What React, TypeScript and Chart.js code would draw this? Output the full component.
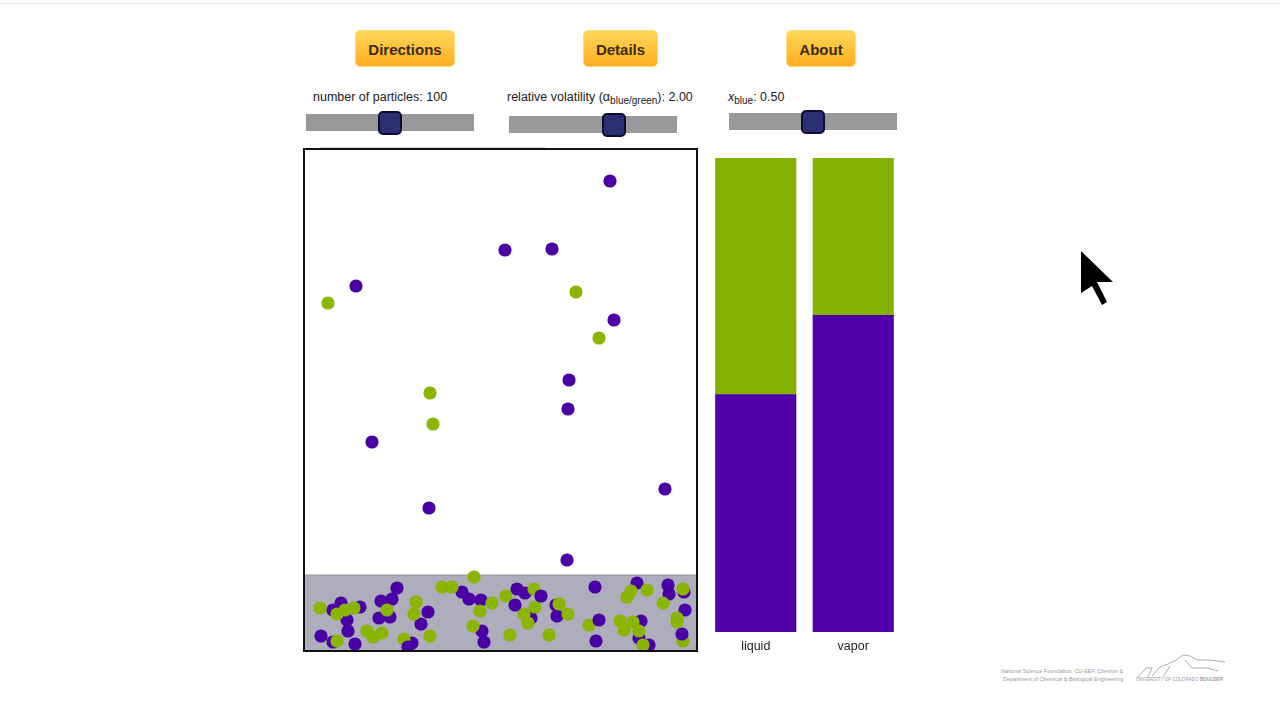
import React, { useEffect, useRef } from "react";
import { Chart, registerables } from "chart.js";

Chart.register(...registerables);

// Simulation box: x = distance from left wall, y = height above the floor
const blueParticles: [number, number][] = [
  [305, 469], [200, 400], [247, 401], [51, 364], [309, 330], [264, 270], [263, 241], [67, 208], [360, 161], [124, 142], [262, 90],
  [36, 47], [28, 40], [55, 43], [42, 30], [43, 19], [16, 14], [28, 8], [50, 6], [92, 62], [76, 49], [87, 51], [74, 32], [85, 33],
  [123, 38], [116, 26], [107, 7], [157, 58], [164, 51], [176, 50], [177, 19], [179, 8],
  [212, 61], [220, 57], [251, 45], [252, 34], [226, 32], [290, 63], [291, 9], [332, 67], [363, 65], [364, 56], [379, 58], [380, 40],
  [336, 29], [334, 12], [344, 5],
];
const blueParticlesFront: [number, number][] = [
  [236, 54], [210, 45], [294, 30], [377, 16], [103, 3],
];
const greenParticles: [number, number][] = [
  [23, 347], [271, 358], [294, 312], [125, 257], [128, 226],
  [15, 42], [32, 36], [40, 40], [49, 42], [82, 40], [111, 48], [109, 36], [62, 19], [68, 13], [77, 17], [32, 9], [99, 11], [125, 14],
  [137, 63], [147, 63], [169, 73], [187, 47], [175, 39], [168, 24], [201, 54],
  [229, 61], [230, 43], [219, 36], [223, 27], [254, 46], [263, 36], [205, 15], [244, 15], [284, 25], [326, 59], [322, 53], [342, 60],
  [358, 47], [378, 61], [372, 32], [372, 28], [315, 29], [328, 28], [319, 20], [334, 19], [338, 5], [378, 9],
];
const boxWidth = 391;
const boxHeight = 500;
const liquidLevel = 75;

// Composition bars
const phases = ["liquid", "vapor"];
const blueFraction = [0.501, 0.668];
const greenFraction = [0.499, 0.332];

const PURPLE = "#4b00a6";
const GREEN = "#8ab500";
const SANS = "'Liberation Sans', Arial, sans-serif";

const liquidPlugin = {
  id: "liquidLayer",
  beforeDatasetsDraw(chart: any) {
    const { ctx, chartArea, scales } = chart;
    const top = scales.y.getPixelForValue(liquidLevel);
    ctx.save();
    ctx.fillStyle = "#adadbb";
    ctx.fillRect(chartArea.left, top, chartArea.right - chartArea.left, chartArea.bottom - top);
    ctx.fillStyle = "#8f8f99";
    ctx.fillRect(chartArea.left, top - 0.5, chartArea.right - chartArea.left, 1);
    ctx.restore();
  },
};

function Particles() {
  const ref = useRef<HTMLCanvasElement>(null);
  useEffect(() => {
    const point = (data: [number, number][], color: string, order: number) => ({
      data: data.map(([x, y]) => ({ x, y })),
      backgroundColor: color,
      borderWidth: 0,
      pointRadius: 6.6,
      order,
    });
    const chart = new Chart(ref.current!, {
      type: "scatter",
      data: {
        datasets: [
          point(blueParticlesFront, PURPLE, 1),
          point(greenParticles, GREEN, 2),
          point(blueParticles, PURPLE, 3),
        ],
      },
      options: {
        animation: false,
        responsive: false,
        devicePixelRatio: 1,
        layout: { padding: 0, autoPadding: false },
        plugins: { legend: { display: false }, tooltip: { enabled: false } },
        scales: {
          x: { min: 0, max: boxWidth, display: false },
          y: { min: 0, max: boxHeight, display: false },
        },
      },
      plugins: [liquidPlugin],
    } as any);
    return () => chart.destroy();
  }, []);
  return (
    <div
      style={{
        position: "absolute",
        left: 303,
        top: 148,
        width: boxWidth,
        height: boxHeight,
        border: "2px solid #111",
      }}
    >
      <canvas ref={ref} width={boxWidth} height={boxHeight} style={{ display: "block" }} />
    </div>
  );
}

function Bars() {
  const ref = useRef<HTMLCanvasElement>(null);
  useEffect(() => {
    const chart = new Chart(ref.current!, {
      type: "bar",
      data: {
        labels: phases,
        datasets: [
          { label: "blue", data: blueFraction, backgroundColor: "#4f00a8", barThickness: 80.5, borderWidth: 0 },
          { label: "green", data: greenFraction, backgroundColor: "#85b200", barThickness: 80.5, borderWidth: 0 },
        ],
      },
      options: {
        animation: false,
        responsive: false,
        devicePixelRatio: 1,
        layout: { padding: { right: 1 }, autoPadding: false },
        plugins: { legend: { display: false }, tooltip: { enabled: false } },
        scales: {
          x: {
            stacked: true,
            grid: { display: false, drawTicks: false },
            border: { display: false },
            ticks: { color: "#222", padding: 7, font: { family: SANS, size: 12.5 }, maxRotation: 0 },
            afterFit(scale: any) {
              scale.height = 30;
            },
          },
          y: { stacked: true, min: 0, max: 1, display: false },
        },
      },
    } as any);
    return () => chart.destroy();
  }, []);
  return (
    <canvas
      ref={ref}
      width={196}
      height={504}
      style={{ position: "absolute", left: 707, top: 158, display: "block" }}
    />
  );
}

function Button({ label, left, width }: { label: string; left: number; width: number }) {
  return (
    <div
      style={{
        position: "absolute",
        left,
        top: 30,
        width,
        height: 37,
        boxSizing: "border-box",
        border: "1px solid #ffdc7a",
        borderRadius: 5,
        background: "linear-gradient(#ffd75a, #ffad1f)",
        color: "#3d2b0c",
        font: `bold 15px ${SANS}`,
        lineHeight: "37px",
        textAlign: "center",
      }}
    >
      {label}
    </div>
  );
}

function Slider({ left, top, thumb }: { left: number; top: number; thumb: number }) {
  return (
    <>
      <div style={{ position: "absolute", left, top, width: 168, height: 16.5, background: "#999" }} />
      <div
        style={{
          position: "absolute",
          left: thumb,
          top: top - 3,
          width: 24,
          height: 23.5,
          boxSizing: "border-box",
          background: "#2b2f73",
          border: "2px solid #0c0c33",
          borderRadius: 5,
        }}
      />
    </>
  );
}

const labelStyle: React.CSSProperties = {
  position: "absolute",
  top: 89,
  font: `12.5px ${SANS}`,
  lineHeight: "16px",
  color: "#222",
  whiteSpace: "nowrap",
};
const subStyle: React.CSSProperties = { fontSize: 10, verticalAlign: "-3px", lineHeight: 0 };
const footStyle: React.CSSProperties = {
  position: "absolute",
  font: `5.5px ${SANS}`,
  lineHeight: "7px",
  color: "#999",
  whiteSpace: "nowrap",
};

export default function App() {
  return (
    <div style={{ position: "absolute", left: 0, top: 0, width: 1280, height: 720, background: "#fff", overflow: "hidden" }}>
      <div style={{ position: "absolute", left: 0, top: 3, width: 1280, height: 1, background: "#e2e2e2" }} />
      <Button label="Directions" left={355} width={100} />
      <Button label="Details" left={583} width={75} />
      <Button label="About" left={786} width={70} />

      <div style={{ ...labelStyle, left: 313 }}>number of particles: 100</div>
      <div style={{ ...labelStyle, left: 507 }}>
        relative volatility (α<sub style={subStyle}>blue/green</sub>): 2.00
      </div>
      <div style={{ ...labelStyle, left: 728 }}>
        <i>x</i>
        <sub style={subStyle}>blue</sub>: 0.50
      </div>

      <Slider left={306} top={114} thumb={378} />
      <Slider left={509} top={116} thumb={602} />
      <Slider left={729} top={113} thumb={801} />

      <div style={{ position: "absolute", left: 320, top: 147, width: 225, height: 1, background: "#d8d8d8" }} />
      <Particles />
      <Bars />

      <div style={{ ...footStyle, left: 1001, top: 668 }}>National Science Foundation, CU-EEF, Chevron &amp;</div>
      <div style={{ ...footStyle, left: 1003, top: 676 }}>Department of Chemical &amp; Biological Engineering</div>
      <div style={{ ...footStyle, left: 1136, top: 676, fontSize: 4.6 }}>
        UNIVERSITY OF COLORADO <b>BOULDER</b>
      </div>
      <svg width={1280} height={720} style={{ position: "absolute", left: 0, top: 0, pointerEvents: "none" }}>
        <path
          d="M1137 678 L1146 668 L1152 668 L1148 677 M1152 676 L1160 667 L1168 664 L1176 660 L1183 655 L1190 656 L1197 660 L1210 660 L1225 662 M1163 677 L1170 666 M1185 660 L1192 668 L1207 668 L1218 671"
          fill="none"
          stroke="#888"
          strokeWidth={0.7}
        />
        <polygon
          points="1081,251 1113,282 1097,282 1107,302 1102,305 1092,286 1081,293"
          fill="#000"
        />
      </svg>
    </div>
  );
}
